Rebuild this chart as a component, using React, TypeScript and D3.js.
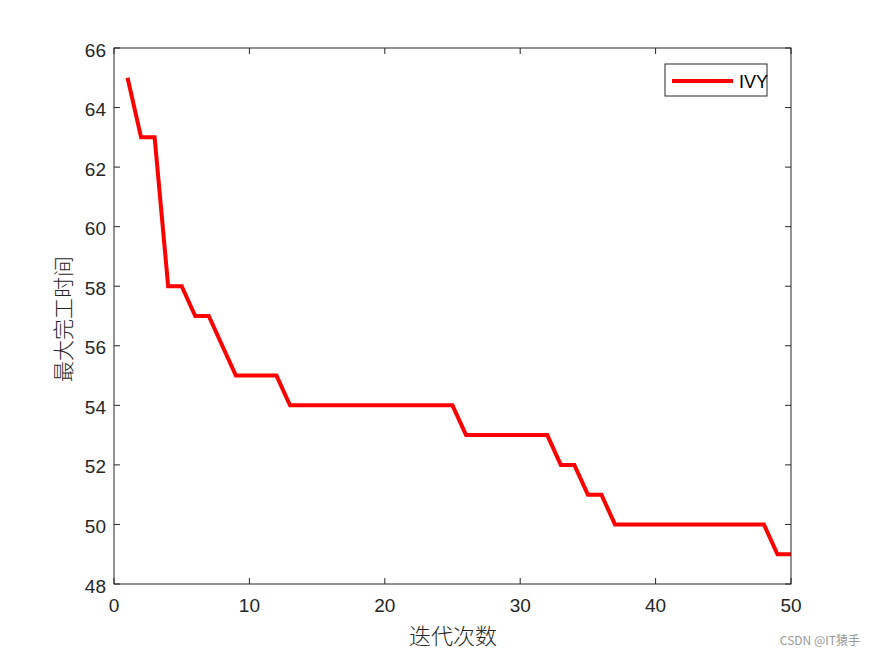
import React from "react";
import * as d3 from "d3";

const iterations = d3.range(1, 51);
const ivyValues = [
  65, 63, 63, 58, 58, 57, 57, 56, 55, 55,
  55, 55, 54, 54, 54, 54, 54, 54, 54, 54,
  54, 54, 54, 54, 54, 53, 53, 53, 53, 53,
  53, 53, 52, 52, 51, 51, 50, 50, 50, 50,
  50, 50, 50, 50, 50, 50, 50, 50, 49, 49,
];
const xTicks = [0, 10, 20, 30, 40, 50];
const yTicks = [48, 50, 52, 54, 56, 58, 60, 62, 64, 66];
const seriesName = "IVY";
const xLabel = "迭代次数";
const yLabel = "最大完工时间";
const watermark = "CSDN @IT猿手";

export default function App() {
  const W = 875, H = 656;
  const L = 114, R = 791, T = 48, B = 584;
  const x = d3.scaleLinear().domain([0, 50]).range([L, R]);
  const y = d3.scaleLinear().domain([48, 66]).range([B, T]);
  const line = d3.line<number>().x((_, i) => x(iterations[i])).y((d) => y(d));
  const axisColor = "#262626";
  const tickFont = "'Liberation Sans', Arial, sans-serif";
  const cjk = "'Noto Sans CJK SC', sans-serif";
  return (
    <svg width={W} height={H} style={{ position: "absolute", left: 0, top: 0, background: "#fff" }}>
      <rect x={0} y={0} width={W} height={H} fill="#fff" />
      <path d={line(ivyValues) || ""} fill="none" stroke="#ff0000" strokeWidth={4} strokeLinejoin="miter" />
      <rect x={L} y={T} width={R - L} height={B - T} fill="none" stroke={axisColor} strokeWidth={1} />
      {xTicks.map((t) => (
        <g key={"x" + t}>
          <line x1={x(t)} x2={x(t)} y1={B} y2={B - 6} stroke={axisColor} />
          <line x1={x(t)} x2={x(t)} y1={T} y2={T + 6} stroke={axisColor} />
          <text x={x(t)} y={B + 28} textAnchor="middle" fontSize={19} fontFamily={tickFont} fill={axisColor}>{t}</text>
        </g>
      ))}
      {yTicks.map((t) => (
        <g key={"y" + t}>
          <line x1={L} x2={L + 6} y1={y(t)} y2={y(t)} stroke={axisColor} />
          <line x1={R} x2={R - 6} y1={y(t)} y2={y(t)} stroke={axisColor} />
          <text x={L - 8} y={y(t) + 8.5} textAnchor="end" fontSize={19} fontFamily={tickFont} fill={axisColor}>{t}</text>
        </g>
      ))}
      <text x={453} y={644} textAnchor="middle" fontSize={22} fontWeight={300} fontFamily={cjk} fill={axisColor}>{xLabel}</text>
      <text transform={`translate(71,319) rotate(-90)`} textAnchor="middle" fontSize={21} fontWeight={300} fontFamily={cjk} fill={axisColor}>{yLabel}</text>
      <rect x={665} y={64} width={102} height={32} fill="#fff" stroke={axisColor} strokeWidth={1} />
      <line x1={672} x2={733} y1={81} y2={81} stroke="#ff0000" strokeWidth={4} />
      <text x={739} y={88} fontSize={18} fontFamily={tickFont} fill="#000">{seriesName}</text>
      <text x={860} y={645} textAnchor="end" fontSize={12} fontFamily={cjk} fill="#999">{watermark}</text>
    </svg>
  );
}
